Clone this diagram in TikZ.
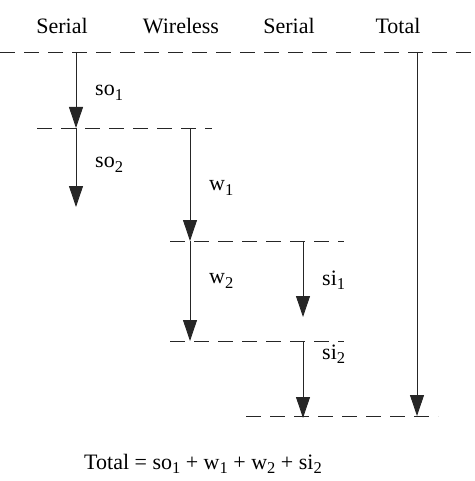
\documentclass[tikz,border=0pt]{standalone}
\usepackage{fontspec}
\setmainfont{Liberation Serif}
\usetikzlibrary{arrows.meta}
\newcommand{\lowsub}[1]{\raisebox{-0.45ex}{\fontsize{16.5}{16.5}\selectfont #1}}
\begin{document}
\begin{tikzpicture}[x=1pt,y=-1pt,
  lbl/.style={font=\fontsize{22}{24}\selectfont, inner sep=0pt},
  sublbl/.style={font=\fontsize{22}{24}\selectfont, inner sep=0pt, anchor=west},
  dashline/.style={draw=black!85, line width=0.9pt, dash pattern=on 15pt off 9pt},
  arr/.style={draw=black!85, line width=0.9pt, -{Triangle[length=21pt,width=14pt]}},
  plain/.style={draw=black!85, line width=0.9pt}]
\useasboundingbox (0,0) rectangle (474,481);
% headers
\node[lbl] (h1) at (62,26) {Serial};
\node[lbl] (h2) at (181,26) {Wireless};
\node[lbl] (h3) at (289,26) {Serial};
\node[lbl] (h4) at (398,26) {Total};
% dashed level lines
\coordinate (l1a) at (0,52);   \coordinate (l1b) at (474,52);
\coordinate (l2a) at (37,128); \coordinate (l2b) at (212,128);
\coordinate (l3a) at (170,241);\coordinate (l3b) at (344,241);
\coordinate (l4a) at (170,341);\coordinate (l4b) at (344,341);
\coordinate (l5a) at (246,416);\coordinate (l5b) at (438,416);
\draw[dashline] (l1a) -- (l1b);
\draw[dashline] (l2a) -- (l2b);
\draw[dashline] (l3a) -- (l3b);
\draw[dashline] (l4a) -- (l4b);
\draw[dashline] (l5a) -- (l5b);
% arrow endpoints
\coordinate (so1s) at (76,52);  \coordinate (so1e) at (76,128);
\coordinate (so2s) at (76,128); \coordinate (so2e) at (76,207);
\coordinate (w1s) at (190,128); \coordinate (w1e) at (190,241);
\coordinate (w2s) at (190,241); \coordinate (w2e) at (190,341);
\coordinate (si1s) at (303,241);\coordinate (si1e) at (303,317);
\coordinate (si2s) at (303,341);\coordinate (si2e) at (303,418);
\coordinate (ts) at (417,52);   \coordinate (te) at (417,416);
\draw[arr] (so1s) -- (so1e);
\draw[arr] (so2s) -- (so2e);
\draw[arr] (w1s) -- (w1e);
\draw[arr] (w2s) -- (w2e);
\draw[arr] (si1s) -- (si1e);
\draw[arr] (si2s) -- (si2e);
\draw[arr] (ts) -- (te);
% labels
\node[sublbl] (t1) at (95,93) {so\lowsub{1}};
\node[sublbl] (t2) at (95,165) {so\lowsub{2}};
\node[sublbl] (t3) at (209,188) {w\lowsub{1}};
\node[sublbl] (t4) at (209,281) {w\lowsub{2}};
\node[sublbl] (t5) at (322,280) {si\lowsub{1}};
\node[sublbl] (t6) at (322,354) {si\lowsub{2}};
% formula
\node[lbl] (f) at (203,464) {Total = so\lowsub{1} + w\lowsub{1} + w\lowsub{2} + si\lowsub{2}};
\end{tikzpicture}
\end{document}
